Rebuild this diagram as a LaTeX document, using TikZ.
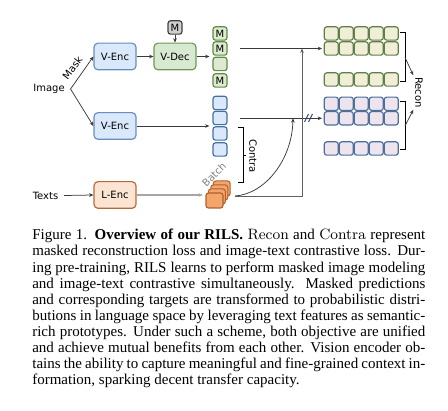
\documentclass[tikz,border=0pt]{standalone}
\usepackage[no-math]{fontspec}
\setmainfont{Liberation Serif}
\newfontfamily\diagfont{DejaVu Sans}
\usepackage{xcolor}
\usepackage{tikz}
\usetikzlibrary{arrows.meta,positioning,calc}

\definecolor{encblue}{HTML}{DAE8FC}
\definecolor{encblueline}{HTML}{6A8DBD}
\definecolor{decgreen}{HTML}{D8E9D2}
\definecolor{decgreenline}{HTML}{6F9858}
\definecolor{txtorange}{HTML}{FCE4D2}
\definecolor{txtorangeline}{HTML}{B46A3C}
\definecolor{batchorange}{HTML}{F4A56C}
\definecolor{batchline}{HTML}{B0602C}
\definecolor{colgreen}{HTML}{DCEBCF}
\definecolor{colgreenline}{HTML}{5F8A45}
\definecolor{colblueline}{HTML}{45709E}
\definecolor{tgtgreen}{HTML}{F1EED8}
\definecolor{tgtgreenline}{HTML}{5E7F47}
\definecolor{tgtblue}{HTML}{EDE4EE}
\definecolor{tgtblueline}{HTML}{4B6E9B}
\definecolor{mgray}{HTML}{D0D0D0}
\definecolor{connline}{HTML}{3A3A3A}

\begin{document}
\begin{tikzpicture}[x=0.6pt, y=-0.6pt,
  font=\diagfont\fontsize{6pt}{7pt}\selectfont,
  encbox/.style={draw, rounded corners=2.4pt, line width=0.7pt, minimum width=25.2pt, minimum height=16pt, inner sep=0pt},
  tok/.style={draw, rounded corners=1.5pt, line width=0.7pt, minimum width=8.4pt, minimum height=8pt, inner sep=0pt},
  gtok/.style={tok, fill=colgreen, draw=colgreenline},
  btok/.style={tok, fill=encblue, draw=colblueline},
  ggrid/.style={tok, fill=tgtgreen, draw=tgtgreenline},
  bgrid/.style={tok, fill=tgtblue, draw=tgtblueline},
  slice/.style={draw=batchline, fill=batchorange, rounded corners=1.5pt, line width=0.6pt},
  conn/.style={draw=connline, line width=0.45pt, -{Stealth[length=2.6pt,width=2.2pt]}},
  brk/.style={draw=black, line width=0.6pt}]
\useasboundingbox (0,0) rectangle (448,411);

% encoders and decoder
\node[encbox, fill=encblue, draw=encblueline] (venc1) at (115,56.5) {V-Enc};
\node[encbox, fill=decgreen, draw=decgreenline] (vdec) at (175,56.5) {V-Dec};
\node[tok, fill=mgray, draw=black!75] (mbox) at (175,27.5) {M};
\node[encbox, fill=encblue, draw=encblueline] (venc2) at (115,126) {V-Enc};
\node[encbox, fill=txtorange, draw=txtorangeline] (lenc) at (115,195) {L-Enc};

% inputs
\node (image) at (49,89) {Image};
\node (texts) at (45.5,195.5) {Texts};
\node[rotate=53, inner sep=0pt] (mask) at (72.5,68) {Mask};

% predictions and targets
\foreach \y/\t [count=\i] in {33.5/M,48.5/M,64/{},80.5/M}
  \node[gtok] (g\i) at (220,\y) {\t};
\foreach \y [count=\i] in {103,118,133.5,149.5}
  \node[btok] (b\i) at (220,\y) {};

% text features in a batch
\foreach \k in {3,2,1}
  \draw[slice] ($(206,193)+(2.4*\k,-4*\k)$) rectangle ++(17,15);
\node[tok, fill=batchorange, draw=batchline, minimum width=10.2pt, minimum height=9pt] (batch) at (214.5,200.5) {};
\node[rotate=45, inner sep=0pt, text=gray] (batchlbl) at (214,175) {Batch};

% distributions
\foreach \r/\y in {1/33.5,2/48.5,3/79.5}
  \foreach \c in {1,...,5}
    \node[ggrid] (gg\r\c) at ({316.3+15*\c},\y) {};
\foreach \r/\y in {1/103.8,2/118.3,3/148.5}
  \foreach \c in {1,...,5}
    \node[bgrid] (bg\r\c) at ({316.3+15*\c},\y) {};

% connectors
\draw[conn] (image.east) -- (venc1.west);
\draw[conn] (image.east) -- (venc2.west);
\draw[conn] (venc1) -- (vdec);
\draw[conn] (mbox) -- (vdec);
\draw[conn, shorten >=1.8pt] (vdec.east) -- (vdec.east -| g2.west);
\draw[conn, shorten >=1.8pt] (venc2.east) -- (venc2.east -| b2.west);
\draw[conn] (texts.east) -- (lenc.west);
\draw[conn, draw=gray!70, line width=0.7pt, shorten >=1.5pt] (lenc.east) -- (lenc.east -| batch.west);

\coordinate (gout) at (240,48.5);
\coordinate (bout) at (240,118.3);
\coordinate (bright) at (235,196);
\coordinate (vjoin) at (302,48.5);
\coordinate (cjoin) at (293,118.3);
\draw[conn, shorten >=1pt] (gout) -- (gg21.west);
\draw[conn, shorten >=1pt] (bout) -- (bg21.west);
\draw[conn, draw=connline!80] (bright) -| (vjoin);
\draw[conn] (bright) .. controls (265,194) and (292,160) .. (cjoin);
\draw[line width=0.6pt, draw=tgtblueline!70!black] (304.5,122) -- (308.5,114) (308.5,122) -- (312.5,114);

% losses
\draw[brk] (238,128) -- (243,128) -- (243,183) -- (238,183) (243,155.5) -- (246,155.5);
\node[rotate=-90] (contra) at (253,156) {Contra};
\draw[brk] (400,33) -- (405,33) -- (405,82) -- (400,82);
\draw[brk] (400,102) -- (405,102) -- (405,150) -- (400,150);
\coordinate (gtick) at (405,57.5);
\coordinate (btick) at (405,126);
\node[rotate=-90, inner sep=1pt] (recon) at (419,92.5) {Recon};
\draw[conn] (gtick) -- (recon.south west);
\draw[conn] (btick) -- (recon.south east);

% caption
\node[anchor=north west, inner sep=0pt, text width=235.8pt, align=justify,
  font=\rmfamily\fontsize{9pt}{9.66pt}\selectfont] (caption) at (32,229) {%
Figure 1.\enspace\textbf{Overview of our RILS.} $\mathrm{Recon}$ and $\mathrm{Contra}$ represent\linebreak
masked reconstruction loss and image-text contrastive loss. Dur-\linebreak
ing pre-training, RILS learns to perform masked image modeling\linebreak
and image-text contrastive simultaneously. Masked predictions\linebreak
and corresponding targets are transformed to probabilistic distri-\linebreak
butions in language space by leveraging text features as semantic-\linebreak
rich prototypes. Under such a scheme, both objective are unified\linebreak
and achieve mutual benefits from each other. Vision encoder ob-\linebreak
tains the ability to capture meaningful and fine-grained context in-\linebreak
formation, sparking decent transfer capacity.};
\end{tikzpicture}
\end{document}
